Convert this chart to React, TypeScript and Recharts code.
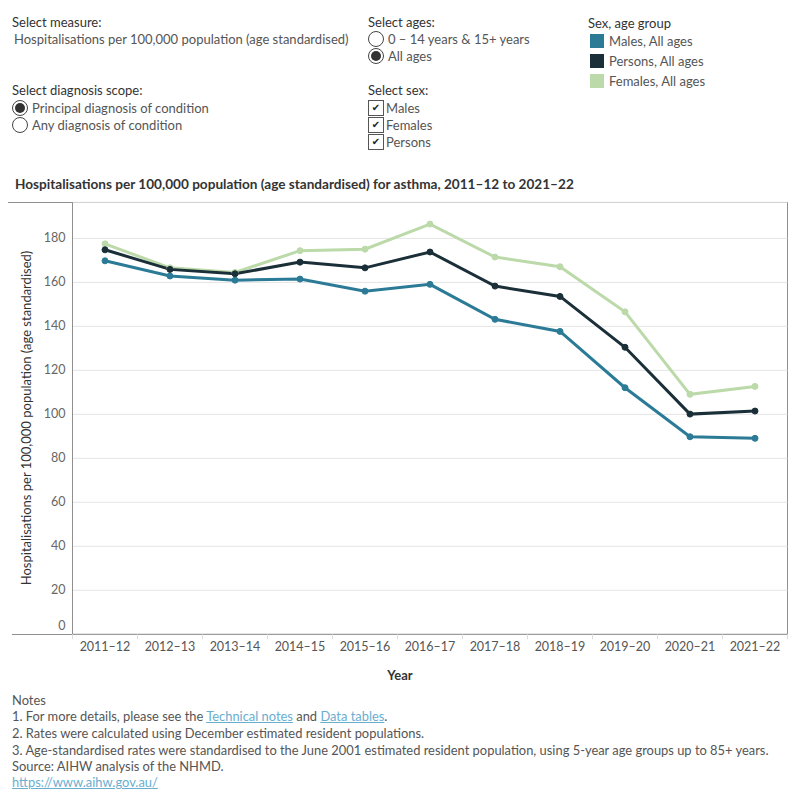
import React from 'react';
import { LineChart, Line, XAxis, YAxis, CartesianGrid } from 'recharts';

// Financial years shown on the category axis
const years = ['2011–12', '2012–13', '2013–14', '2014–15', '2015–16', '2016–17', '2017–18', '2018–19', '2019–20', '2020–21', '2021–22'];

// Hospitalisations per 100,000 population (age standardised), asthma
const males = [169.8, 162.9, 161.0, 161.5, 156.0, 159.1, 143.2, 137.7, 112.1, 89.8, 89.1];
const persons = [174.8, 165.9, 163.9, 169.2, 166.6, 173.8, 158.3, 153.6, 130.5, 100.1, 101.5];
const females = [177.5, 166.6, 164.5, 174.4, 175.1, 186.5, 171.5, 167.1, 146.6, 109.1, 112.7];

const yTicks = [0, 20, 40, 60, 80, 100, 120, 140, 160, 180];

const seriesList = [
  { key: 'males', name: 'Males, All ages', color: '#2b7b97', values: males },
  { key: 'persons', name: 'Persons, All ages', color: '#1b2f39', values: persons },
  { key: 'females', name: 'Females, All ages', color: '#bcdaa9', values: females },
];

// draw order: females at the back, persons on top
const drawOrder = ['females', 'males', 'persons'];

const data = years.map((year, i) => ({
  year,
  males: males[i],
  persons: persons[i],
  females: females[i],
}));

const FONT = 'Lato, "Noto Sans", Arial, sans-serif';
const DARK = '#333333';
const GREY = '#555555';
const FRAME = '#8f8f8f';

const textStyle: React.CSSProperties = {
  position: 'absolute',
  fontFamily: FONT,
  fontSize: 13,
  lineHeight: '16px',
  whiteSpace: 'nowrap',
};

function Label({ x, y, children, color = DARK, weight = 400, size = 13 }: any) {
  return <div style={{ ...textStyle, left: x, top: y - 8, color, fontWeight: weight, fontSize: size }}>{children}</div>;
}

function Radio({ x, y, label, checked }: any) {
  return (
    <>
      <div
        style={{
          position: 'absolute',
          left: x,
          top: y - 8,
          width: 14,
          height: 14,
          borderRadius: '50%',
          border: '1px solid #444',
          background: '#fff',
          boxSizing: 'content-box',
        }}
      >
        {checked && (
          <div
            style={{
              position: 'absolute',
              left: 2,
              top: 2,
              width: 10,
              height: 10,
              borderRadius: '50%',
              background: '#333',
            }}
          />
        )}
      </div>
      <Label x={x + 20} y={y} color={GREY}>{label}</Label>
    </>
  );
}

function Check({ x, y, label }: any) {
  return (
    <>
      <div
        style={{
          position: 'absolute',
          left: x,
          top: y - 8,
          width: 14,
          height: 14,
          border: '1px solid #555',
          background: '#fff',
          fontSize: 10,
          lineHeight: '14px',
          textAlign: 'center',
          color: '#222',
          fontFamily: '"DejaVu Sans", sans-serif',
        }}
      >
        ✔
      </div>
      <Label x={x + 18} y={y} color={GREY}>{label}</Label>
    </>
  );
}

function XTick({ x, y, payload, index }: any) {
  const half = 32.5;
  const last = index === years.length - 1;
  return (
    <g>
      <line x1={x - half} x2={x - half} y1={y} y2={y + 5} stroke="#dddddd" />
      {last && <line x1={x + half} x2={x + half} y1={y} y2={y + 5} stroke="#dddddd" />}
      <text x={x} y={y + 17} textAnchor="middle" fill="#555" fontSize={12.5} fontFamily={FONT}>
        {payload.value}
      </text>
    </g>
  );
}

function YTick({ x, y, payload }: any) {
  const shift = payload.value === 0 ? -8 : 0;
  return (
    <text x={x} y={y + 4 + shift} textAnchor="end" fill="#666" fontSize={12.5} fontFamily={FONT}>
      {payload.value}
    </text>
  );
}

const NOTE_SIZE = 12.9;
const linkStyle: React.CSSProperties = { color: '#6aaed0', textDecoration: 'underline' };

export default function App() {
  return (
    <div style={{ position: 'absolute', left: 0, top: 0, width: 800, height: 800, background: '#fff' }}>
      {/* filter controls */}
      <Label x={12} y={22}>Select measure:</Label>
      <Label x={14} y={39} color={GREY}>Hospitalisations per 100,000 population (age standardised)</Label>

      <Label x={12} y={90}>Select diagnosis scope:</Label>
      <Radio x={12} y={108} label="Principal diagnosis of condition" checked />
      <Radio x={12} y={125} label="Any diagnosis of condition" />

      <Label x={368} y={22}>Select ages:</Label>
      <Radio x={368} y={39} label="0 – 14 years & 15+ years" />
      <Radio x={368} y={56} label="All ages" checked />

      <Label x={368} y={90}>Select sex:</Label>
      <Check x={368} y={108} label="Males" />
      <Check x={368} y={125} label="Females" />
      <Check x={368} y={142} label="Persons" />

      {/* colour legend */}
      <Label x={588} y={23}>Sex, age group</Label>
      {seriesList.map((s, i) => (
        <React.Fragment key={s.key}>
          <div style={{ position: 'absolute', left: 590, top: 34 + i * 20, width: 14, height: 14, background: s.color }} />
          <Label x={609} y={41 + i * 20} color={GREY}>{s.name}</Label>
        </React.Fragment>
      ))}

      {/* chart title */}
      <div style={{ ...textStyle, left: 15, top: 176, fontSize: 13.6, fontWeight: 700, color: DARK }}>
        Hospitalisations per 100,000 population (age standardised) for asthma, 2011–12 to 2021–22
      </div>

      {/* pane frame */}
      <div style={{ position: 'absolute', left: 8, top: 202, width: 780, height: 1, background: FRAME }} />
      <div style={{ position: 'absolute', left: 12, top: 634, width: 776, height: 1, background: FRAME }} />
      <div style={{ position: 'absolute', left: 787, top: 202, width: 1, height: 433, background: FRAME }} />

      <div style={{ position: 'absolute', left: 0, top: 0 }}>
        <LineChart width={800} height={800} data={data} margin={{ top: 202.3, right: 12.5, bottom: 135.7, left: 12.5 }}>
          <CartesianGrid horizontal vertical={false} stroke="#e4e4e4" />
          <XAxis
            dataKey="year"
            type="category"
            scale="point"
            padding={{ left: 32.5, right: 32.5 }}
            height={30}
            axisLine={{ stroke: FRAME }}
            tickLine={false}
            tickSize={0}
            tickMargin={0}
            interval={0}
            tick={<XTick />}
          />
          <YAxis
            width={60}
            domain={[0, 196.4]}
            ticks={yTicks}
            axisLine={{ stroke: FRAME }}
            tickLine={false}
            tickSize={0}
            tickMargin={7}
            tick={<YTick />}
          />
          {drawOrder.map((k) => {
            const s = seriesList.find((d) => d.key === k)!;
            return (
              <Line
                key={s.key}
                dataKey={s.key}
                name={s.name}
                type="linear"
                stroke={s.color}
                strokeWidth={3}
                dot={{ r: 3, fill: s.color, stroke: s.color, strokeWidth: 1 }}
                activeDot={false}
                isAnimationActive={false}
              />
            );
          })}
        </LineChart>
      </div>

      {/* axis titles */}
      <div
        style={{
          ...textStyle,
          left: 26,
          top: 418,
          color: DARK,
          transform: 'translate(-50%, -50%) rotate(-90deg)',
        }}
      >
        Hospitalisations per 100,000 population (age standardised)
      </div>
      <div style={{ ...textStyle, left: 400, top: 667, transform: 'translateX(-50%)', color: DARK, fontWeight: 700 }}>
        Year
      </div>

      {/* notes */}
      <Label x={12} y={700} color={GREY} size={NOTE_SIZE}>Notes</Label>
      <Label x={12} y={716} color={GREY} size={NOTE_SIZE}>
        1. For more details, please see the <span style={linkStyle}>Technical notes</span> and{' '}
        <span style={linkStyle}>Data tables</span>.
      </Label>
      <Label x={12} y={733} color={GREY} size={NOTE_SIZE}>
        2. Rates were calculated using December estimated resident populations.
      </Label>
      <Label x={12} y={749.5} color={GREY} size={NOTE_SIZE}>
        3. Age-standardised rates were standardised to the June 2001 estimated resident population, using 5-year age groups up to 85+ years.
      </Label>
      <Label x={12} y={766} color={GREY} size={NOTE_SIZE}>Source: AIHW analysis of the NHMD.</Label>
      <Label x={12} y={782} color={GREY} size={NOTE_SIZE}>
        <span style={linkStyle}>https://www.aihw.gov.au/</span>
      </Label>
    </div>
  );
}
